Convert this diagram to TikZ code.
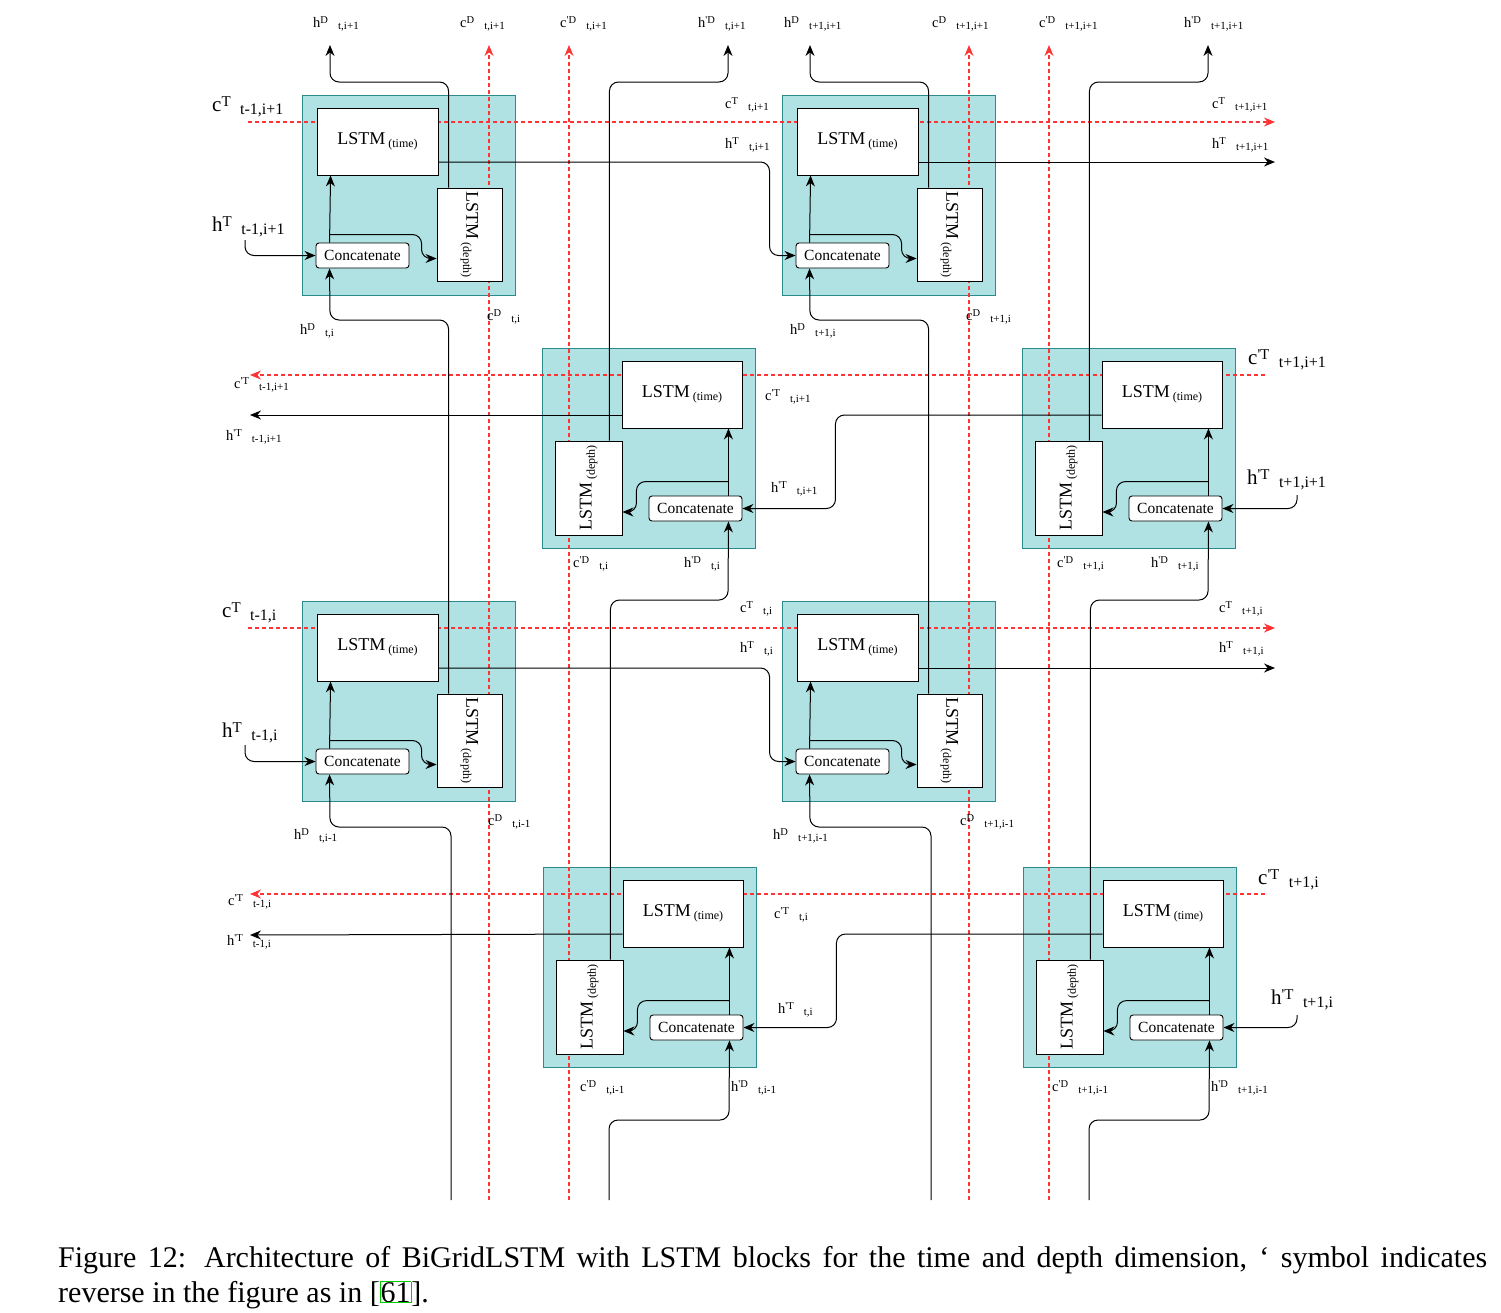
\documentclass[tikz,border=0pt]{standalone}
\usepackage{fontspec}
\setmainfont{Liberation Serif}
\usetikzlibrary{arrows.meta}
\pgfdeclarelayer{bg}\pgfdeclarelayer{mid}
\pgfsetlayers{bg,mid,main}
\definecolor{tealf}{HTML}{B0E2E4}
\definecolor{teald}{HTML}{2A8A8C}
\definecolor{rdc}{HTML}{FF3333}
\newcommand\qq{\textquotesingle}
\newcommand\smL[3]{{\fontsize{14.5}{16}\selectfont #1\raisebox{0.6ex}{\fontsize{10.5}{12}\selectfont #2}\hspace{0.7em}\raisebox{-0.4ex}{\fontsize{11}{12}\selectfont #3}}}
\newcommand\bgL[3]{{\fontsize{21}{23}\selectfont #1\raisebox{0.5ex}{\fontsize{15}{16}\selectfont #2}\hspace{0.45em}\raisebox{-0.4ex}{\fontsize{16}{17}\selectfont #3}}}
\tikzset{
 outer/.style={draw=teald,fill=tealf,line width=0.9pt,minimum width=213pt,minimum height=200pt,inner sep=0},
 box/.style={draw=black,fill=white,line width=0.9pt,inner sep=0},
 cc/.style={box,rounded corners=3pt,minimum width=93pt,minimum height=25pt,font=\fontsize{15.5}{17}\selectfont},
 lab/.style={anchor=base west,inner sep=0},
 ln/.style={draw=black,line width=1pt,rounded corners=9pt,-{Stealth[length=11pt,width=9pt]}},
 rd/.style={draw=rdc,dash pattern=on 4pt off 3pt,line width=1.1pt,-{Stealth[length=11pt,width=9pt]}}
}
\newcommand\lstmt{LSTM\,\raisebox{-0.4ex}{\fontsize{12}{13}\selectfont(time)}}
\newcommand\lstmd{{\fontsize{18}{20}\selectfont LSTM\,\raisebox{-0.4ex}{\fontsize{12}{13}\selectfont(depth)}}}
\newcommand\fwdblk[3]{%
 \begin{pgfonlayer}{bg}\node[outer] (#1o) at (#2+106.5,#3+100) {};\end{pgfonlayer}
 \node[box,minimum width=121pt,minimum height=67pt,font=\fontsize{18}{20}\selectfont] (#1t) at (#2+75.5,#3+46.5) {\lstmt};
 \node[box,minimum width=65pt,minimum height=93pt] (#1d) at (#2+167.5,#3+139.5) {\rotatebox{-90}{\lstmd}};
 \node[cc] (#1c) at (#2+60.5,#3+160.5) {Concatenate};
 \draw[ln] ([xshift=14pt]#1c.north west) -- ([xshift=14pt]#1t.south west);
 \draw[ln] ([xshift=14pt,yshift=8pt]#1c.north west) -| ([xshift=-15pt,yshift=-24pt]#1d.west) -- ([yshift=-24pt]#1d.west);
}
\newcommand\revblk[3]{%
 \begin{pgfonlayer}{bg}\node[outer] (#1o) at (#2+106.5,#3+100) {};\end{pgfonlayer}
 \node[box,minimum width=120pt,minimum height=67pt,font=\fontsize{18}{20}\selectfont] (#1t) at (#2+140,#3+46.5) {\lstmt};
 \node[box,minimum width=67pt,minimum height=94pt] (#1d) at (#2+46.5,#3+140) {\rotatebox{90}{\lstmd}};
 \node[cc] (#1c) at (#2+153.5,#3+160.5) {Concatenate};
 \draw[ln] ([xshift=-14pt]#1c.north east) -- ([xshift=-14pt]#1t.south east);
 \draw[ln] ([xshift=-14pt,yshift=14pt]#1c.north east) -| ([xshift=14pt,yshift=-24pt]#1d.east) -- ([yshift=-24pt]#1d.east);
}
\begin{document}
\begin{tikzpicture}[x=1pt,y=-1pt]
\useasboundingbox (0,0) rectangle (1501,1312);
\fwdblk{F1}{302}{95}
\fwdblk{F2}{782}{95}
\fwdblk{F3}{302}{601}
\fwdblk{F4}{782}{601}
\revblk{R1}{542}{348}
\revblk{R2}{1022}{348}
\revblk{R3}{543}{867}
\revblk{R4}{1023}{867}
\foreach \n/\x in {a/330,b/728,c/810,d/1208}{\coordinate (top\n) at (\x,45);}
\coordinate (hin1) at (245,240);
\coordinate (hin2) at (245,745);
\coordinate (hin3) at (1297,495);
\coordinate (hin4) at (1297,1015);
\coordinate (out1) at (1275,162);
\coordinate (out2) at (1275,668);
\coordinate (out3) at (250,415);
\coordinate (out4) at (250,935);
\coordinate (bot1) at (451,1200);
\coordinate (bot2) at (931,1200);
\coordinate (bot3) at (609,1200);
\coordinate (bot4) at (1089,1200);
\begin{pgfonlayer}{mid}
\draw[rd] (248,122) -- (1275,122);
\draw[rd] (248,628) -- (1275,628);
\draw[rd] (1265,375) -- (250,375);
\draw[rd] (1265,894) -- (250,894);
\draw[rd] (489,1200) -- (489,45);
\draw[rd] (969,1200) -- (969,45);
\draw[rd] (569,1200) -- (569,45);
\draw[rd] (1049,1200) -- (1049,45);
\end{pgfonlayer}
\draw[ln] (hin1) |- (F1c.west);
\draw[ln] (hin2) |- (F3c.west);
\draw[ln] ([yshift=-20.5pt]F1t.east) -| ([xshift=-26pt]F2c.west) -- (F2c.west);
\draw[ln] ([yshift=-20.5pt]F3t.east) -| ([xshift=-26pt]F4c.west) -- (F4c.west);
\draw[ln] ([yshift=-20.5pt]F2t.east) -- (out1);
\draw[ln] ([yshift=-20.5pt]F4t.east) -- (out2);
\draw[ln] ([xshift=12pt]F1d.north west) |- ([yshift=-37pt]topa) -- (topa);
\draw[ln] ([xshift=12pt]F2d.north west) |- ([yshift=-37pt]topc) -- (topc);
\draw[ln] ([xshift=12pt]F3d.north west) |- (330,320) -- ([xshift=14pt]F1c.south west);
\draw[ln] ([xshift=12pt]F4d.north west) |- (810,320) -- ([xshift=14pt]F2c.south west);
\draw[ln] (bot1) |- (330,827) -- ([xshift=14pt]F3c.south west);
\draw[ln] (bot2) |- (810,827) -- ([xshift=14pt]F4c.south west);
\draw[ln] (hin3) |- (R2c.east);
\draw[ln] (hin4) |- (R4c.east);
\draw[ln] ([yshift=-20.5pt]R2t.west) -| ([xshift=93pt]R1c.east) -- (R1c.east);
\draw[ln] ([yshift=-20.5pt]R4t.west) -| ([xshift=93pt]R3c.east) -- (R3c.east);
\draw[ln] ([yshift=-20.5pt]R1t.west) -- (out3);
\draw[ln] ([yshift=-20.5pt]R3t.west) -- (out4);
\draw[ln] ([xshift=-13pt]R1d.north east) |- ([yshift=-37pt]topb) -- (topb);
\draw[ln] ([xshift=-13pt]R2d.north east) |- ([yshift=-37pt]topd) -- (topd);
\draw[ln] ([xshift=-13pt]R3d.north east) |- (728,600) -- ([xshift=-14pt]R1c.south east);
\draw[ln] ([xshift=-13pt]R4d.north east) |- (1208,600) -- ([xshift=-14pt]R2c.south east);
\draw[ln] (bot3) |- (729,1120) -- ([xshift=-14pt]R3c.south east);
\draw[ln] (bot4) |- (1209,1120) -- ([xshift=-14pt]R4c.south east);
\node[lab] (l1) at (313,27) {\smL{h}{D}{t,i+1}};
\node[lab] (l2) at (460,27) {\smL{c}{D}{t,i+1}};
\node[lab] (l3) at (560,27) {\smL{c}{\qq D}{t,i+1}};
\node[lab] (l4) at (698,27) {\smL{h}{\qq D}{t,i+1}};
\node[lab] (l5) at (784,27) {\smL{h}{D}{t+1,i+1}};
\node[lab] (l6) at (932,27) {\smL{c}{D}{t+1,i+1}};
\node[lab] (l7) at (1039,27) {\smL{c}{\qq D}{t+1,i+1}};
\node[lab] (l8) at (1184,27) {\smL{h}{\qq D}{t+1,i+1}};
\node[lab] (l9) at (212,111) {\bgL{c}{T}{t-1,i+1}};
\node[lab] (l10) at (212,231) {\bgL{h}{T}{t-1,i+1}};
\node[lab] (l11) at (725,108) {\smL{c}{T}{t,i+1}};
\node[lab] (l12) at (725,148) {\smL{h}{T}{t,i+1}};
\node[lab] (l13) at (1212,108) {\smL{c}{T}{t+1,i+1}};
\node[lab] (l14) at (1212,148) {\smL{h}{T}{t+1,i+1}};
\node[lab] (l15) at (300,334) {\smL{h}{D}{t,i}};
\node[lab] (l16) at (487,320) {\smL{c}{D}{t,i}};
\node[lab] (l17) at (790,334) {\smL{h}{D}{t+1,i}};
\node[lab] (l18) at (966,320) {\smL{c}{D}{t+1,i}};
\node[lab] (l19) at (234,388) {\smL{c}{\qq T}{t-1,i+1}};
\node[lab] (l20) at (226,440) {\smL{h}{\qq T}{t-1,i+1}};
\node[lab] (l21) at (765,400) {\smL{c}{\qq T}{t,i+1}};
\node[lab] (l22) at (771,492) {\smL{h}{\qq T}{t,i+1}};
\node[lab] (l23) at (1248,364) {\bgL{c}{\qq T}{t+1,i+1}};
\node[lab] (l24) at (1247,484) {\bgL{h}{\qq T}{t+1,i+1}};
\node[lab] (l25) at (573,567) {\smL{c}{\qq D}{t,i}};
\node[lab] (l26) at (684,567) {\smL{h}{\qq D}{t,i}};
\node[lab] (l27) at (1057,567) {\smL{c}{\qq D}{t+1,i}};
\node[lab] (l28) at (1151,567) {\smL{h}{\qq D}{t+1,i}};
\node[lab] (l29) at (222,617) {\bgL{c}{T}{t-1,i}};
\node[lab] (l30) at (222,737) {\bgL{h}{T}{t-1,i}};
\node[lab] (l31) at (740,612) {\smL{c}{T}{t,i}};
\node[lab] (l32) at (740,652) {\smL{h}{T}{t,i}};
\node[lab] (l33) at (1219,612) {\smL{c}{T}{t+1,i}};
\node[lab] (l34) at (1219,652) {\smL{h}{T}{t+1,i}};
\node[lab] (l35) at (294,839) {\smL{h}{D}{t,i-1}};
\node[lab] (l36) at (488,825) {\smL{c}{D}{t,i-1}};
\node[lab] (l37) at (773,839) {\smL{h}{D}{t+1,i-1}};
\node[lab] (l38) at (960,825) {\smL{c}{D}{t+1,i-1}};
\node[lab] (l39) at (228,905) {\smL{c}{\qq T}{t-1,i}};
\node[lab] (l40) at (227,945) {\smL{h}{\qq T}{t-1,i}};
\node[lab] (l41) at (774,918) {\smL{c}{\qq T}{t,i}};
\node[lab] (l42) at (778,1013) {\smL{h}{\qq T}{t,i}};
\node[lab] (l43) at (1258,884) {\bgL{c}{\qq T}{t+1,i}};
\node[lab] (l44) at (1271,1004) {\bgL{h}{\qq T}{t+1,i}};
\node[lab] (l45) at (580,1091) {\smL{c}{\qq D}{t,i-1}};
\node[lab] (l46) at (731,1091) {\smL{h}{\qq D}{t,i-1}};
\node[lab] (l47) at (1052,1091) {\smL{c}{\qq D}{t+1,i-1}};
\node[lab] (l48) at (1211,1091) {\smL{h}{\qq D}{t+1,i-1}};
\node[lab,font=\fontsize{30}{34}\selectfont] (cap1) at (58,1267) {\makebox[1429pt][s]{Figure 12: Architecture of BiGridLSTM with LSTM blocks for the time and depth dimension, ‘ symbol indicates}};
\node[lab,font=\fontsize{30}{34}\selectfont] (cap2) at (58,1302) {reverse in the figure as in [{\setlength\fboxsep{0pt}\setlength\fboxrule{0.8pt}\color{green!80!black}\fbox{\color{black}61}}].};
\end{tikzpicture}
\end{document}
